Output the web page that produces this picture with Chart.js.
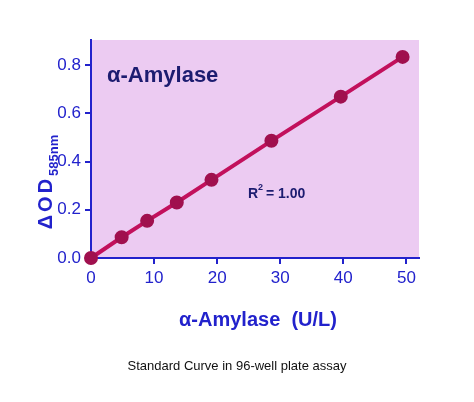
<!DOCTYPE html>
<html><head><script src="https://cdn.jsdelivr.net/npm/chart.js@4"></script>
<style>body{margin:0;background:#fff}</style></head><body>
<div style="width:474px;height:402px"><canvas id="c" width="474" height="402"></canvas></div>
<script>
const xValues=[0,4.86,8.9,13.6,19.1,28.6,39.6,49.4];
const yValues=[0,0.086,0.154,0.23,0.324,0.486,0.669,0.834];
const xTicks=[0,10,20,30,40,50];
const yTicks=[0,0.2,0.4,0.6,0.8];
const blue='#2222CC';
const deco={id:'deco',
beforeDraw(ch){const a=ch.chartArea,c=ch.ctx;c.save();c.fillStyle='#ECCBF2';c.fillRect(a.left,a.top,a.right-a.left,a.bottom-a.top);c.restore();},
afterDraw(ch){const c=ch.ctx;c.save();
c.fillStyle='#1c1c70';c.font='bold 22px Liberation Sans';c.textBaseline='alphabetic';c.fillText('α-Amylase',107,82);
c.font='bold 14px Liberation Sans';c.fillText('R',248,198);c.font='bold 9px Liberation Sans';c.fillText('2',258,190);c.font='bold 14px Liberation Sans';c.fillText(' = 1.00',262,198);
c.fillStyle=blue;c.font='bold 20px Liberation Sans';c.textAlign='center';c.fillText('α-Amylase  (U/L)',258,326);
c.fillStyle='#111';c.font='13px Liberation Sans';c.fillText('Standard Curve in 96-well plate assay',237,370);
c.translate(52,182);c.rotate(-Math.PI/2);c.fillStyle=blue;c.textAlign='left';
c.font='bold 20px Liberation Sans';c.letterSpacing='3px';const t='ΔOD';const w=c.measureText(t).width;c.letterSpacing='0px';c.font='bold 13px Liberation Sans';const w2=c.measureText('585nm').width;
const s=-(w+w2)/2;c.font='bold 20px Liberation Sans';c.letterSpacing='3px';c.fillText(t,s,0);c.letterSpacing='0px';c.font='bold 13px Liberation Sans';c.fillText('585nm',s+w,6);
c.restore();}};
new Chart(document.getElementById('c'),{type:'scatter',
data:{datasets:[{data:xValues.map((x,i)=>({x,y:yValues[i]})),showLine:true,borderColor:'#C2105C',borderWidth:4,pointRadius:5,pointBackgroundColor:'#A0104E',pointBorderColor:'#A0104E',clip:false}]},
options:{responsive:false,animation:false,layout:{padding:{left:0,right:55,top:40,bottom:0}},
plugins:{legend:{display:false},tooltip:{enabled:false}},
scales:{x:{type:'linear',min:0,max:52,afterBuildTicks(s){s.ticks=xTicks.map(v=>({value:v}))},afterFit(s){s.height=144},
grid:{drawOnChartArea:false,tickLength:6,color:blue,lineWidth:2},border:{color:blue,width:2},
ticks:{color:blue,font:{size:17,family:'Liberation Sans'},padding:4}},
y:{type:'linear',min:0,max:0.904,afterBuildTicks(s){s.ticks=yTicks.map(v=>({value:v}))},afterFit(s){s.width=91},
grid:{drawOnChartArea:false,tickLength:6,color:blue,lineWidth:2},border:{color:blue,width:2},
ticks:{color:blue,font:{size:17,family:'Liberation Sans'},padding:4,callback:v=>v.toFixed(1)}}}},
plugins:[deco]});
</script></body></html>
